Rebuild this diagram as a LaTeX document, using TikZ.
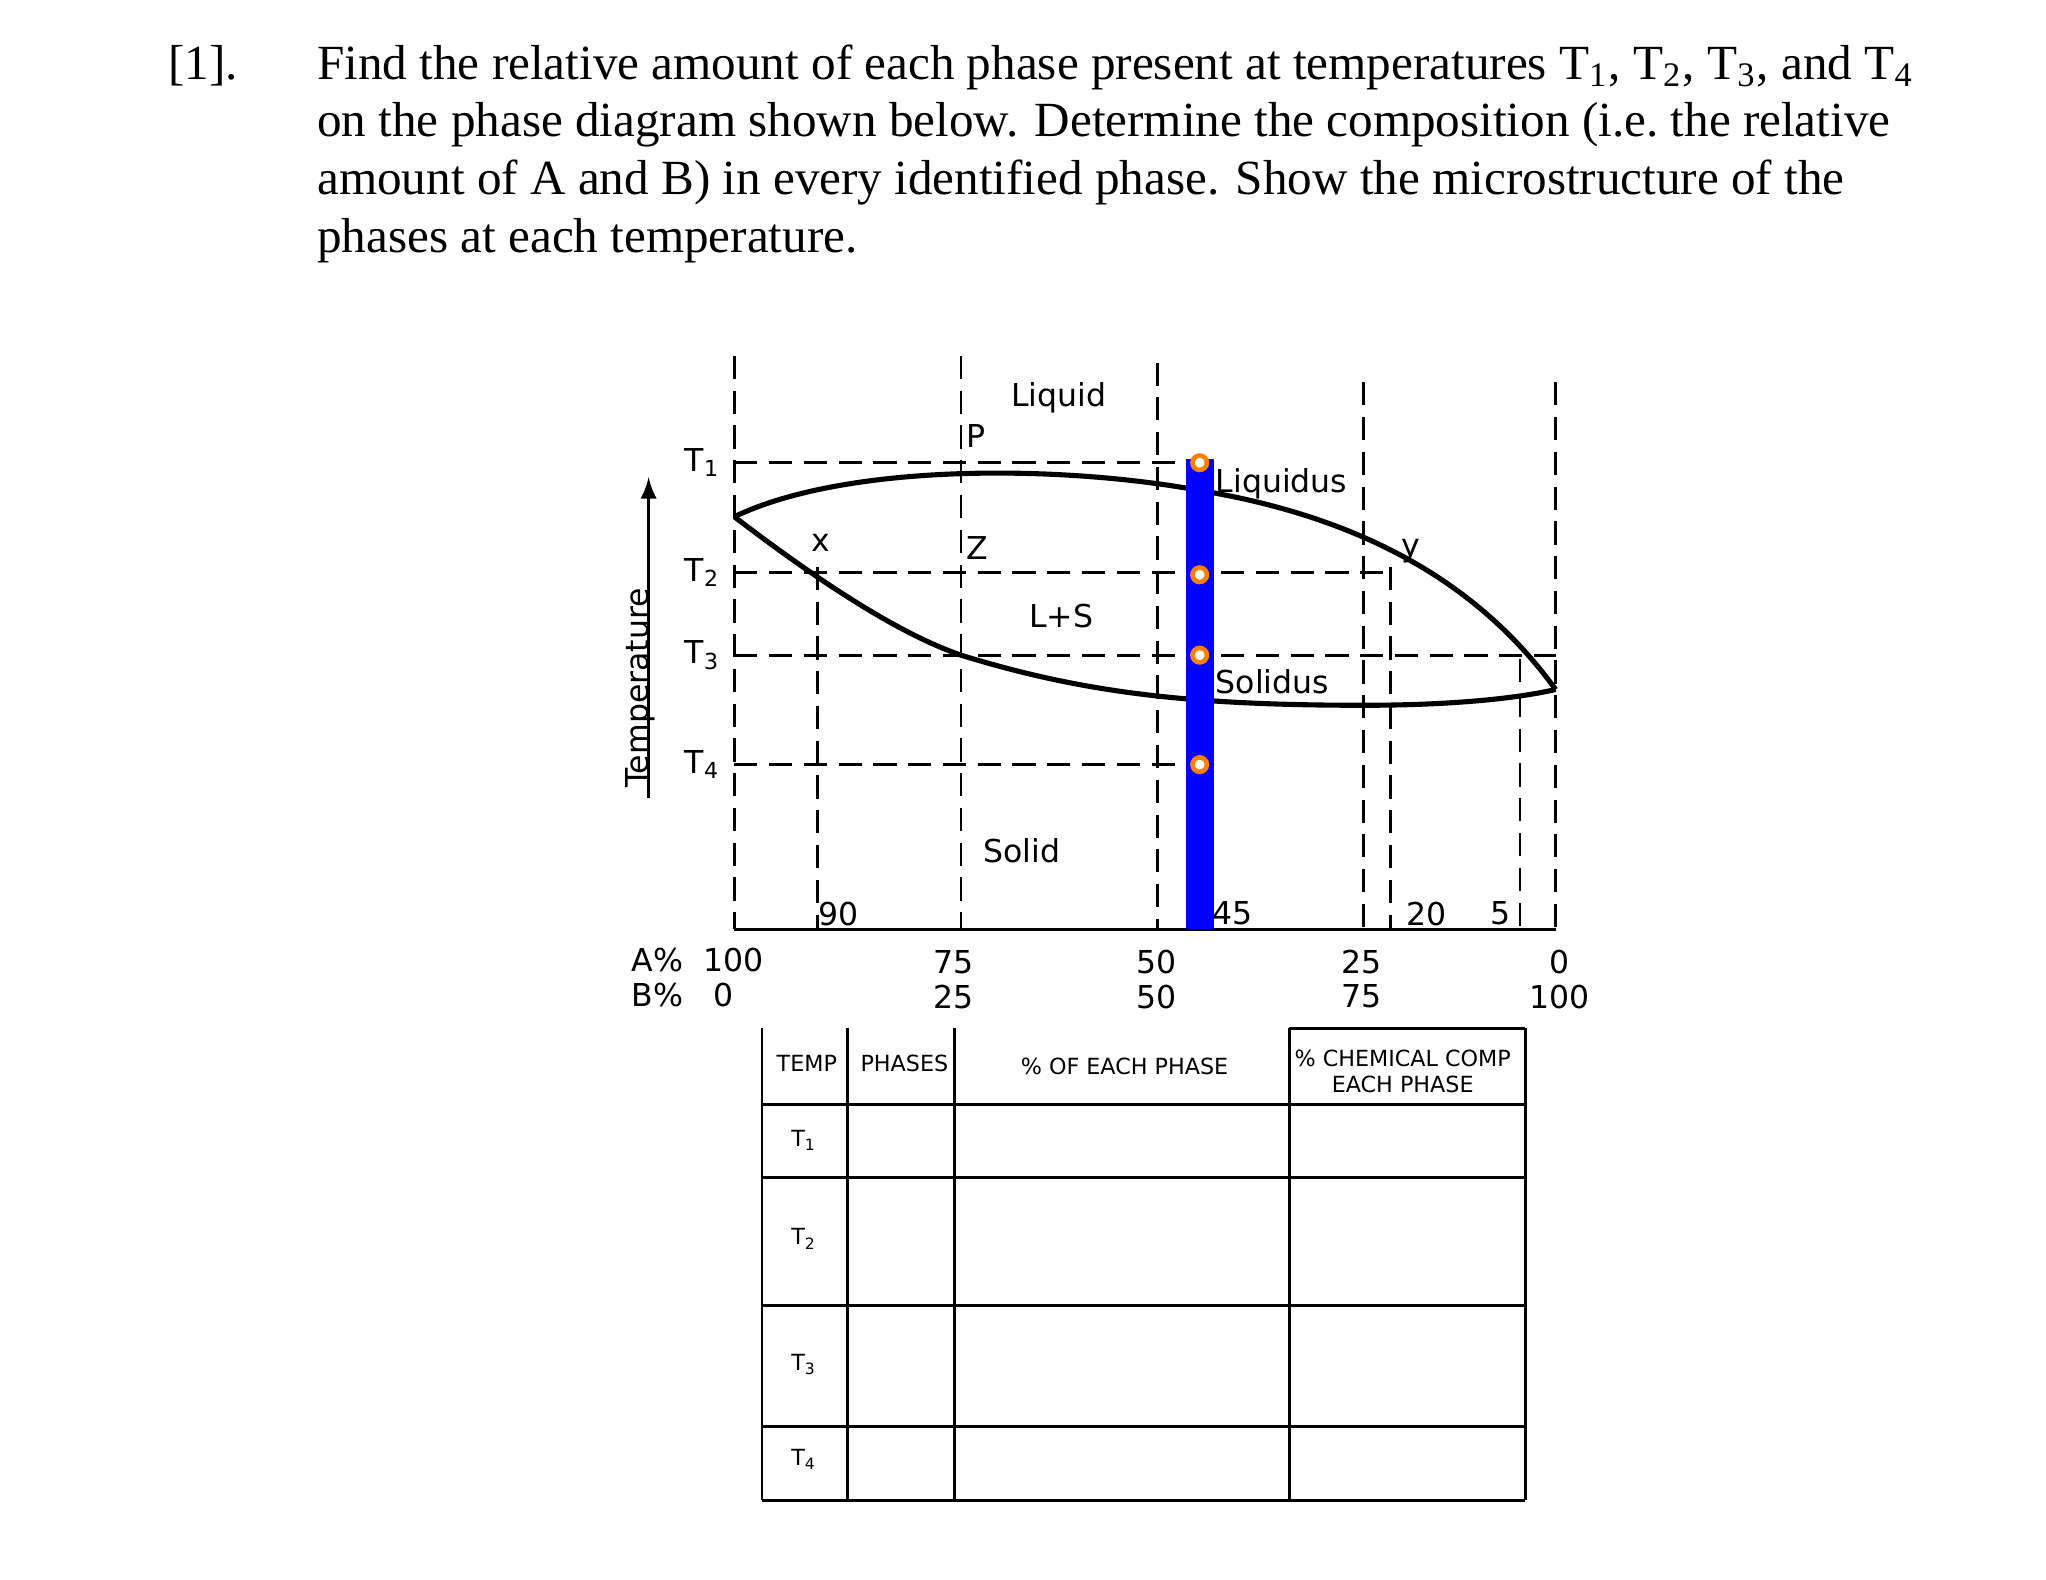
\documentclass[tikz,border=0pt]{standalone}
\usepackage{fontspec}
\setmainfont{Liberation Serif}
\newfontfamily\lab{DejaVu Sans}
\begin{document}
\begin{tikzpicture}[x=0.01cm,y=-0.01cm,
  dsh/.style={dash pattern=on 5pt off 2.5pt,line width=0.6pt},
  crv/.style={line width=1.1pt},
  lb/.style={font=\lab\fontsize{6.8}{8}\selectfont,inner sep=1pt},
  sm/.style={font=\lab\fontsize{4.8}{5.6}\selectfont,inner sep=1pt},
  oc/.style={circle,draw=orange,fill=white,line width=1pt,inner sep=1.1pt},
  tl/.style={line width=0.6pt}]
\useasboundingbox (0,0) rectangle (1552,1198);
% problem text
\node[anchor=base west,font=\fontsize{10.6}{12}\selectfont,inner sep=0pt] (num) at (127,60) {[1].};
\node[anchor=north west,align=left,inner sep=0pt,font=\fontsize{10.6}{12.5}\selectfont] (q) at (240,33)
 {Find the relative amount of each phase present at temperatures T\textsubscript{1}, T\textsubscript{2}, T\textsubscript{3}, and T\textsubscript{4}\\
 on the phase diagram shown below. Determine the composition (i.e.\ the relative\\
 amount of A and B) in every identified phase. Show the microstructure of the\\
 phases at each temperature.};
% vertical dashed lines
\foreach \x/\t in {557/270,620/430,729/270,878/275,1034/290,1055/430,1153/500,1180/290}
  \draw[dsh] (\x,\t) -- (\x,705);
\draw[line width=0.8pt] (557,705) -- (1180,705);
% horizontal dashed
\draw[dsh] (557,351) -- (910,351);
\draw[dsh] (557,434) -- (1055,434);
\draw[dsh] (557,497) -- (1180,497);
\draw[dsh] (557,580) -- (910,580);
% curves
\coordinate (L) at (557,392); \coordinate (R) at (1180,523);
\draw[crv] (L) .. controls (640,352) and (800,352) .. (910,372) .. controls (1030,392) and (1120,440) .. (R);
\draw[crv] (L) .. controls (620,440) and (680,480) .. (729,497) .. controls (820,525) and (900,535) .. (1034,535) .. controls (1100,535) and (1150,530) .. (R);
% blue line
\draw[blue,line width=6pt] (910,348) -- (910,705);
\foreach \y/\n in {351/a,436/b,497/c,580/d} \node[oc] (o\n) at (910,\y) {};
% labels
\node[lb] (liq) at (803,302) {Liquid};
\node[lb] (p) at (740,331) {P};
\node[lb,anchor=west] (liqs) at (918,367) {Liquidus};
\node[lb] (z) at (741,416) {Z};
\node[lb] (xx) at (623,412) {x};
\node[lb] (yy) at (1070,418) {y};
\node[lb] (ls) at (805,467) {L+S};
\node[lb,anchor=west] (sol) at (918,517) {Solidus};
\node[lb] (so) at (775,645) {Solid};
\node[lb] (n90) at (636,693) {90};
\node[lb] (n45) at (935,693) {45};
\node[lb] (n20) at (1082,693) {20};
\node[lb] (n5) at (1138,693) {5};
\foreach \y/\i in {351/1,434/2,497/3,580/4}
  \node[lb] (t\i) at (533,\y) {T\textsubscript{\i}};
\node[lb,rotate=90] (temp) at (486,522) {Temperature};
\draw[-latex,line width=0.6pt] (492,605) -- (492,362);
% axis numbers
\node[lb,anchor=west] (ap) at (475,728) {A\% \ 100};
\node[lb,anchor=west] (bp) at (475,755) {B\% \ \ 0};
\foreach \x/\a/\b in {723/75/25,877/50/50,1033/25/75,1183/0/100}{
  \node[lb] at (\x,730) {\a}; \node[lb] at (\x,756) {\b};}
% table
\draw[tl] (578,780) -- (578,1138);
\foreach \x in {643,724,978} \draw[tl] (\x,780) -- (\x,1138);
\draw[tl] (1157,780) -- (1157,1138);
\draw[tl] (978,780) -- (1157,780);
\foreach \y in {838,893,990,1082,1138} \draw[tl] (578,\y) -- (1157,\y);
\node[sm] (h1) at (612,807) {TEMP};
\node[sm] (h2) at (686,807) {PHASES};
\node[sm] (h3) at (853,809) {\% OF EACH PHASE};
\node[sm,align=center] (h4) at (1064,813) {\% CHEMICAL COMP\\EACH PHASE};
\foreach \y/\i in {865/1,940/2,1035/3,1107/4} \node[sm] at (610,\y) {T\textsubscript{\i}};
\end{tikzpicture}
\end{document}
